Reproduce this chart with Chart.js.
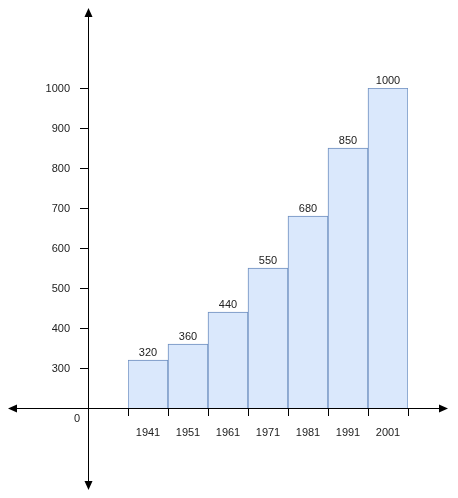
<!DOCTYPE html>
<html>
<head>
<meta charset="utf-8">
<script src="https://cdn.jsdelivr.net/npm/chart.js@4/dist/chart.umd.min.js"></script>
<style>
  html, body { margin: 0; padding: 0; background: #fff; }
</style>
</head>
<body>
<canvas id="chart" width="458" height="498"></canvas>
<script>
const years = ["1941", "1951", "1961", "1971", "1981", "1991", "2001"];
const values = [320, 360, 440, 550, 680, 850, 1000];
const yTickLabels = [300, 400, 500, 600, 700, 800, 900, 1000];

// the y axis is broken between 0 and 300: values >= 300 are shifted down by 200
const BREAK_SHIFT = 200;
const toAxis = (v) => (v >= 300 ? v - BREAK_SHIFT : v);

const FONT = "11px 'Liberation Sans', Arial, sans-serif";
const TEXT = "#222";

function arrow(ctx, x, y, dir) {
    const s = 9, w = 4;
    ctx.beginPath();
    if (dir === "up") { ctx.moveTo(x, y); ctx.lineTo(x - w, y + s); ctx.lineTo(x + w, y + s); }
    if (dir === "down") { ctx.moveTo(x, y); ctx.lineTo(x - w, y - s); ctx.lineTo(x + w, y - s); }
    if (dir === "left") { ctx.moveTo(x, y); ctx.lineTo(x + s, y - w); ctx.lineTo(x + s, y + w); }
    if (dir === "right") { ctx.moveTo(x, y); ctx.lineTo(x - s, y - w); ctx.lineTo(x - s, y + w); }
    ctx.closePath();
    ctx.fill();
}

const axesPlugin = {
    id: "axesPlugin",
    afterDraw(chart) {
        const ctx = chart.ctx;
        const xs = chart.scales.x;
        const ys = chart.scales.y;
        const step = (xs.right - xs.left) / years.length;
        const x0 = xs.left - step;
        const y0 = ys.getPixelForValue(0);

        ctx.save();
        ctx.strokeStyle = "#000";
        ctx.fillStyle = "#000";
        ctx.lineWidth = 1;

        // axes
        ctx.beginPath();
        ctx.moveTo(10, y0 + 0.5); ctx.lineTo(446, y0 + 0.5);
        ctx.moveTo(x0 + 0.5, 12); ctx.lineTo(x0 + 0.5, 486);
        ctx.stroke();
        arrow(ctx, 8, y0 + 0.5, "left");
        arrow(ctx, 448, y0 + 0.5, "right");
        arrow(ctx, x0 + 0.5, 8, "up");
        arrow(ctx, x0 + 0.5, 490, "down");

        ctx.font = FONT;
        ctx.fillStyle = TEXT;

        // y ticks
        ctx.textAlign = "right";
        ctx.textBaseline = "middle";
        yTickLabels.forEach((t) => {
            const py = Math.round(ys.getPixelForValue(toAxis(t))) + 0.5;
            ctx.beginPath();
            ctx.moveTo(x0 - 8, py); ctx.lineTo(x0, py);
            ctx.stroke();
            ctx.fillText(String(t), x0 - 18, py);
        });
        ctx.fillText("0", x0 - 8, y0 + 11);

        // x ticks
        ctx.textAlign = "center";
        ctx.textBaseline = "top";
        for (let i = 0; i <= years.length; i++) {
            const px = Math.round(xs.left + i * step) + 0.5;
            ctx.beginPath();
            ctx.moveTo(px, y0); ctx.lineTo(px, y0 + 8);
            ctx.stroke();
        }
        years.forEach((y, i) => {
            ctx.fillText(y, xs.getPixelForValue(i), y0 + 19);
        });

        // value labels
        ctx.textBaseline = "bottom";
        chart.getDatasetMeta(0).data.forEach((bar, i) => {
            ctx.fillText(String(values[i]), bar.x, bar.y - 2);
        });
        ctx.restore();
    }
};

new Chart(document.getElementById("chart"), {
    type: "bar",
    data: {
        labels: years,
        datasets: [{
            data: values.map(toAxis),
            backgroundColor: "#dae8fc",
            borderColor: "#6c8ebf",
            borderWidth: 1,
            barPercentage: 1,
            categoryPercentage: 1
        }]
    },
    options: {
        responsive: false,
        animation: false,
        devicePixelRatio: 1,
        layout: { padding: { left: 128, right: 50, top: 88, bottom: 90 } },
        plugins: { legend: { display: false }, tooltip: { enabled: false } },
        scales: {
            x: { display: false },
            y: { display: false, min: 0, max: 800 }
        }
    },
    plugins: [axesPlugin]
});
</script>
</body>
</html>
